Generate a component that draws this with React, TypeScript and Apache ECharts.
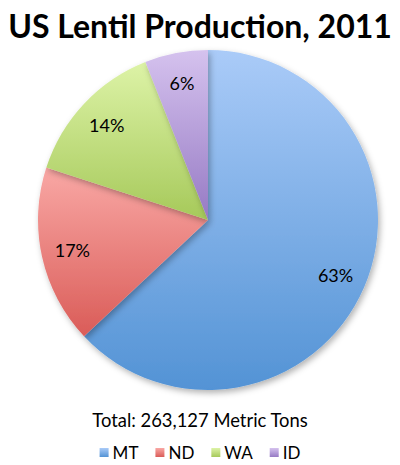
import React, { useEffect, useRef } from "react";
import * as echarts from "echarts";

const titleText = "US Lentil Production, 2011";
const totalText = "Total: 263,127 Metric Tons";
const states = ["MT", "ND", "WA", "ID"];
const shares = [63, 17, 14, 6];
const topColors = ["#aacbf8", "#f9a8a5", "#ddf3a7", "#d5c2ee"];
const bottomColors = ["#5393d5", "#da5c58", "#a6c95a", "#967ac4"];

export default function App() {
  const ref = useRef<HTMLDivElement>(null);
  useEffect(() => {
    const chart = echarts.init(ref.current!, null, { renderer: "svg" });
    const grad = (i: number) =>
      new echarts.graphic.LinearGradient(0, 0, 0, 1, [
        { offset: 0, color: topColors[i] },
        { offset: 1, color: bottomColors[i] },
      ]);
    const fontFamily = "Lato, 'Open Sans', sans-serif";
    chart.setOption({
      animation: false,
      title: [
        {
          text: titleText,
          left: "center",
          top: 4,
          textStyle: { fontFamily, fontSize: 32, fontWeight: "bold", color: "#000" },
        },
        {
          text: totalText,
          left: "center",
          top: 406,
          textStyle: { fontFamily, fontSize: 18.4, fontWeight: "normal", color: "#000" },
        },
      ],
      legend: {
        data: states,
        left: "center",
        top: 439,
        icon: "rect",
        itemWidth: 9,
        itemHeight: 9,
        itemGap: 17,
        textStyle: { fontFamily, fontSize: 17, color: "#000", padding: [0, 0, 0, -1] },
      },
      series: [
        {
          type: "pie",
          center: [208, 220],
          radius: [0, 170],
          startAngle: 90,
          clockwise: true,
          silent: true,
          label: { show: false },
          labelLine: { show: false },
          itemStyle: {
            shadowBlur: 6,
            shadowOffsetX: 2,
            shadowOffsetY: 3,
            shadowColor: "rgba(0,0,0,0.3)",
          },
          data: states.map((s, i) => ({
            name: s,
            value: shares[i],
            itemStyle: { color: grad(i) },
          })),
        },
        {
          type: "pie",
          center: [208, 220],
          radius: [102, 170],
          startAngle: 90,
          clockwise: true,
          silent: true,
          legendHoverLink: false,
          itemStyle: { color: "rgba(0,0,0,0)" },
          label: {
            show: true,
            position: "inside",
            formatter: "{c}%",
            fontFamily,
            fontSize: 18,
            color: "#000",
          },
          labelLine: { show: false },
          data: states.map((s, i) => ({
            name: s + " ",
            value: shares[i],
          })),
        },
      ],
    });
    return () => chart.dispose();
  }, []);
  return (
    <div
      ref={ref}
      style={{ position: "absolute", left: 0, top: 0, width: 400, height: 465 }}
    />
  );
}
